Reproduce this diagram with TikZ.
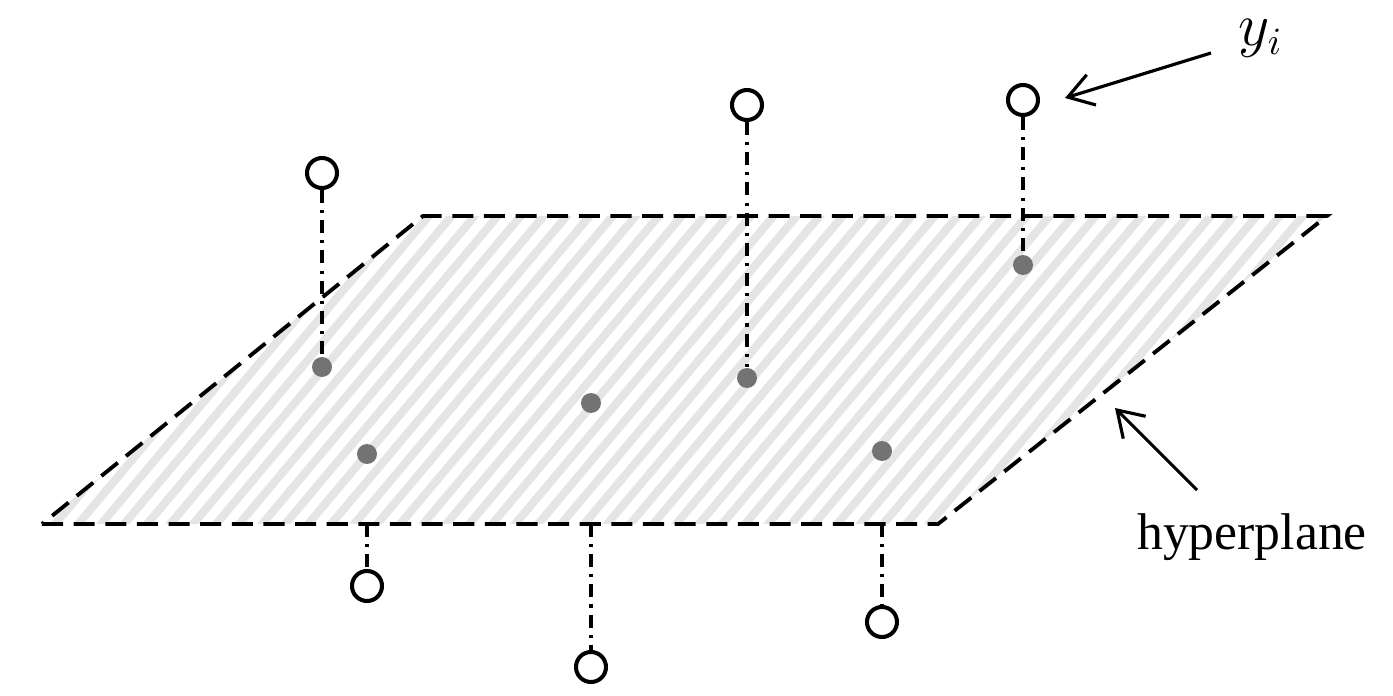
\documentclass[tikz,border=0pt]{standalone}
\usepackage{fontspec}
\setmainfont{Liberation Serif}
\usetikzlibrary{arrows.meta}

\begin{document}
\begin{tikzpicture}
	\tikzstyle{obs}=[circle, minimum size = 3mm, inner sep = 0pt, line width = 1.15pt, draw = black, fill = white]
\tikzstyle{proj}=[circle, minimum size = 2mm, inner sep = 0pt, fill = black!55]
\tikzstyle{plane}=[line width = 1.1pt, dash pattern = on 6pt off 3pt]
\tikzstyle{stripe}=[line width = 2.3pt, black!10]
\tikzstyle{drop}=[line width = 1pt, dash pattern = on 3.7pt off 2pt on 0.9pt off 2pt]
\tikzstyle{connect}=[-{Straight Barb[length = 7pt, width = 9pt]}, line width = 0.9pt]
\useasboundingbox (0,0) rectangle (13.93,6.95);
\coordinate (bl) at (0.42,1.71);
\coordinate (br) at (9.38,1.71);
\coordinate (tr) at (13.27,4.79);
\coordinate (tl) at (4.23,4.79);
\fill[white] (bl) -- (br) -- (tr) -- (tl) -- cycle;
\begin{scope}
  \clip (bl) -- (br) -- (tr) -- (tl) -- cycle;
  \foreach \i in {-12,...,48}
    \draw[stripe] (0.23*\i,1.6) -- ++(50:4.4);
\end{scope}
\draw[plane] (bl) -- (br) -- (tr) -- (tl) -- cycle;
\node[proj] (p1) at (3.22,3.28) { };
\node[proj] (p2) at (3.67,2.41) { };
\node[proj] (p3) at (5.91,2.92) { };
\node[proj] (p4) at (7.47,3.17) { };
\node[proj] (p5) at (8.82,2.44) { };
\node[proj] (p6) at (10.23,4.30) { };
\node[obs] (y1) at (3.22,5.22) { };
\node[obs] (y2) at (3.67,1.09) { };
\node[obs] (y3) at (5.91,0.28) { };
\node[obs] (y4) at (7.47,5.90) { };
\node[obs] (y5) at (8.82,0.73) { };
\node[obs] (y6) at (10.23,5.95) { };
\coordinate (e2) at (p2 |- bl);
\coordinate (e3) at (p3 |- bl);
\coordinate (e5) at (p5 |- bl);
\path (y1) edge [drop] (p1)
      (y4) edge [drop] (p4)
      (y6) edge [drop] (p6)
      (e2) edge [drop] (y2)
      (e3) edge [drop] (y3)
      (e5) edge [drop] (y5);
\node (ylab) at (12.61,6.57) {\fontsize{16}{19}\selectfont $y_i$};
\node (hlab) at (12.52,1.58) {\fontsize{14.7}{17}\selectfont hyperplane};
\coordinate (ytail) at (12.11,6.42);
\coordinate (ytip) at (10.65,5.97);
\coordinate (htail) at (11.97,2.05);
\coordinate (htip) at (11.15,2.87);
\path (ytail) edge [connect] (ytip)
      (htail) edge [connect] (htip);
\end{tikzpicture}
\end{document}
